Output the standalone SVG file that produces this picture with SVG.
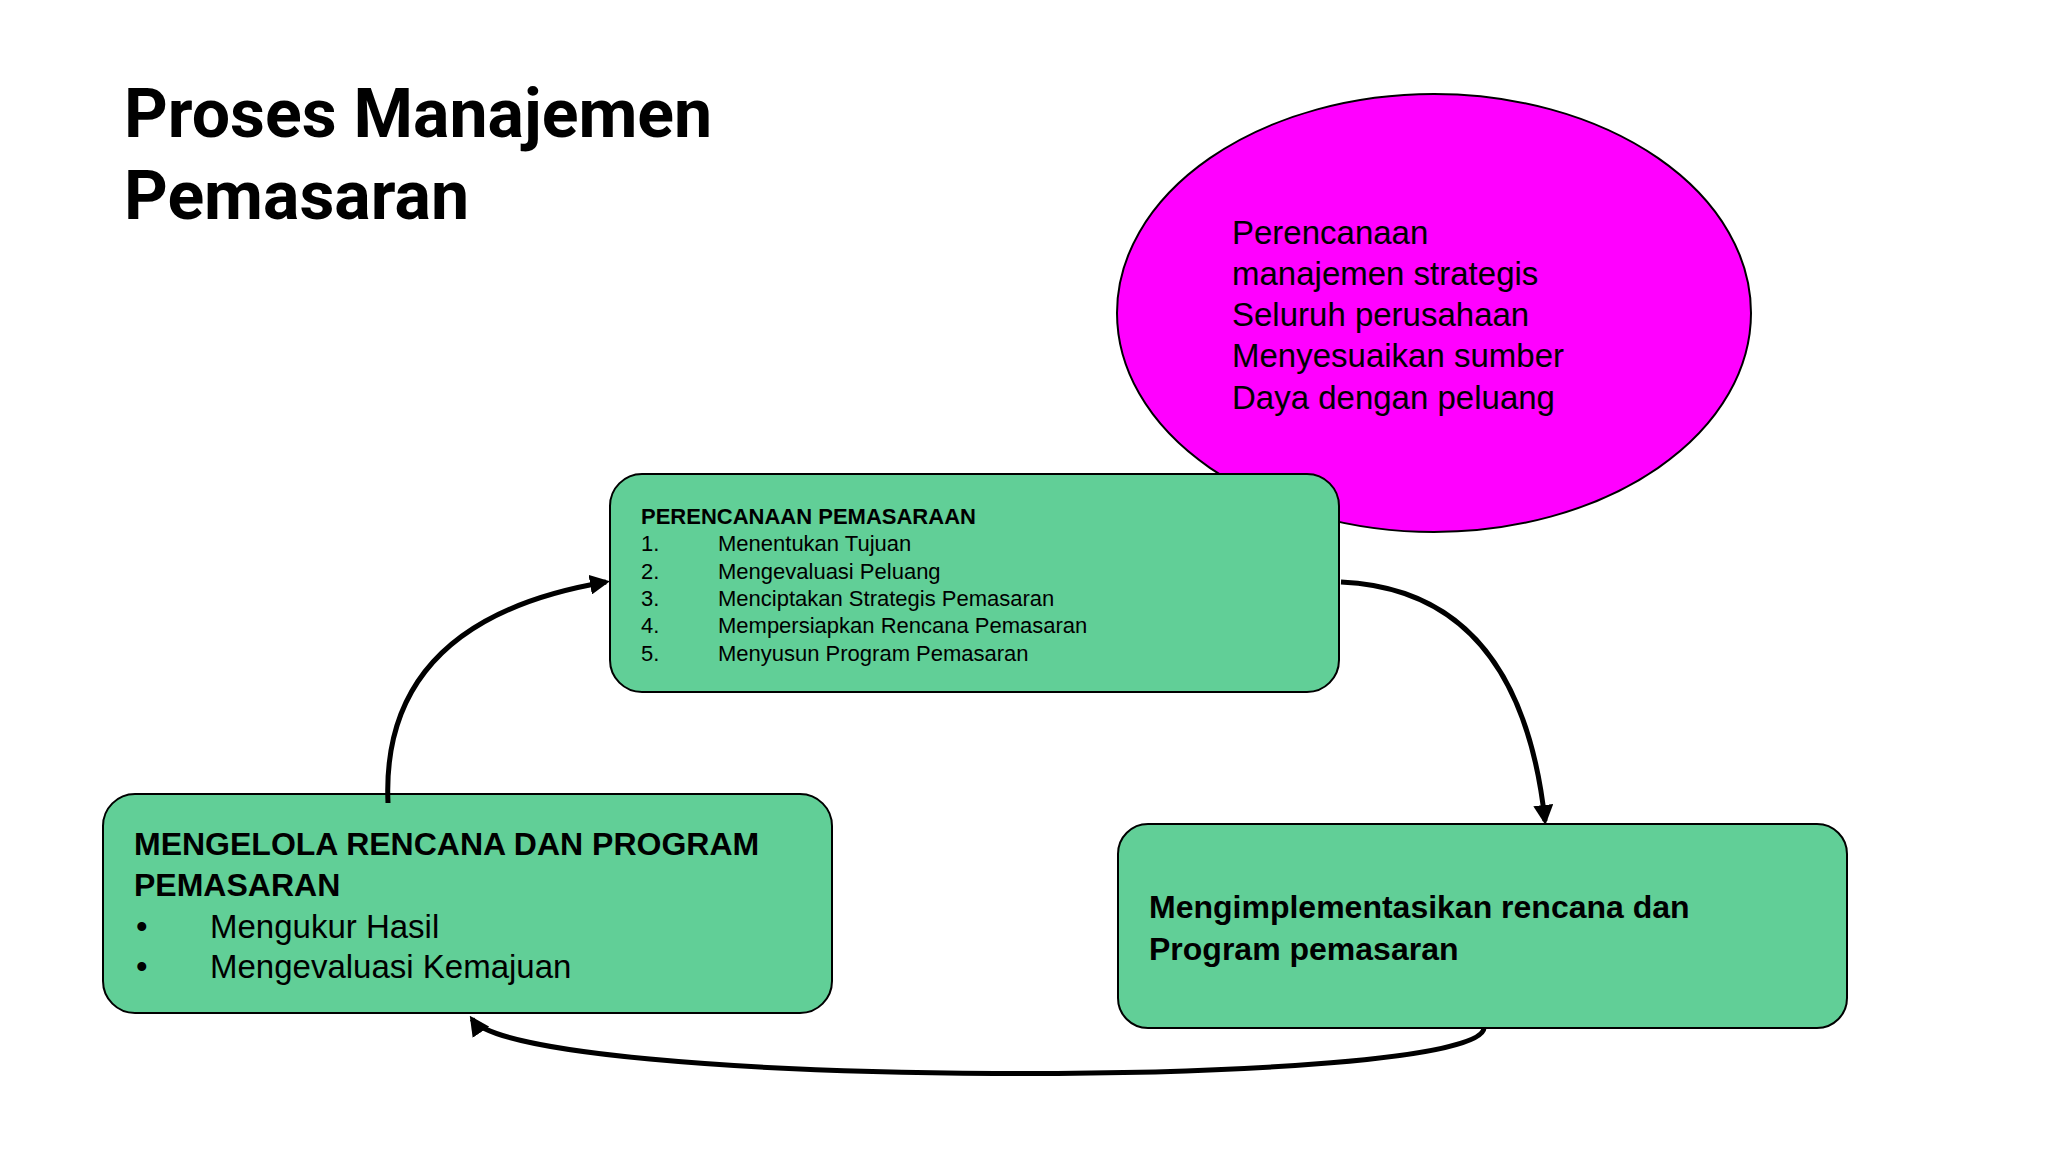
<svg xmlns="http://www.w3.org/2000/svg" width="2048" height="1152" viewBox="0 0 2048 1152">
<defs>
<style>
.box{fill:#61CF97;stroke:#000;stroke-width:2}
.t{font-family:"Liberation Sans",Arial,sans-serif;fill:#000}
.c{fill:none;stroke:#000;stroke-width:5}
</style>
<marker id="ah" viewBox="0 0 10 10" refX="8" refY="5" markerWidth="4" markerHeight="4" orient="auto" markerUnits="strokeWidth"><path d="M0,0L10,5L0,10z" fill="#000"/></marker>
</defs>
<rect width="2048" height="1152" fill="#fff"/>
<g id="title"><text class="t" x="124" y="137" font-family="Roboto,sans-serif" style="font-family:Roboto,sans-serif" font-size="68" font-weight="bold">Proses Manajemen</text>
<text class="t" x="124" y="219" style="font-family:Roboto,sans-serif" font-size="68" font-weight="bold">Pemasaran</text></g>
<g id="ellipse"><ellipse cx="1434" cy="313" rx="317" ry="219" fill="#FF00FF" stroke="#000" stroke-width="2"/>
<text class="t" font-size="33"><tspan x="1232" y="244">Perencanaan</tspan><tspan x="1232" y="285">manajemen strategis</tspan><tspan x="1232" y="326">Seluruh perusahaan</tspan><tspan x="1232" y="367">Menyesuaikan sumber</tspan><tspan x="1232" y="409">Daya dengan peluang</tspan></text></g>
<g id="plan"><rect class="box" x="610" y="474" width="729" height="218" rx="32"/>
<text class="t" x="641" y="524" font-size="22" font-weight="bold">PERENCANAAN PEMASARAAN</text>
<text class="t" font-size="22"><tspan x="641" y="551">1.</tspan><tspan x="718" y="551">Menentukan Tujuan</tspan><tspan x="641" y="579">2.</tspan><tspan x="718" y="579">Mengevaluasi Peluang</tspan><tspan x="641" y="606">3.</tspan><tspan x="718" y="606">Menciptakan Strategis Pemasaran</tspan><tspan x="641" y="633">4.</tspan><tspan x="718" y="633">Mempersiapkan Rencana Pemasaran</tspan><tspan x="641" y="661">5.</tspan><tspan x="718" y="661">Menyusun  Program Pemasaran</tspan></text></g>
<g id="manage"><rect class="box" x="103" y="794" width="729" height="219" rx="32"/>
<text class="t" font-size="32" font-weight="bold"><tspan x="134" y="855">MENGELOLA RENCANA DAN PROGRAM</tspan><tspan x="134" y="896">PEMASARAN</tspan></text>
<text class="t" font-size="33"><tspan x="136" y="938">•</tspan><tspan x="210" y="938">Mengukur Hasil</tspan><tspan x="136" y="978">•</tspan><tspan x="210" y="978">Mengevaluasi Kemajuan</tspan></text></g>
<g id="implement"><rect class="box" x="1118" y="824" width="729" height="204" rx="30"/>
<text class="t" font-size="32" font-weight="bold"><tspan x="1149" y="918">Mengimplementasikan rencana dan</tspan><tspan x="1149" y="960">Program pemasaran</tspan></text></g>
<g id="connectors">
<path class="c" d="M388,803 Q380,620 606,582" marker-end="url(#ah)"/>
<path class="c" d="M1341,582 Q1520,590 1545,821" marker-end="url(#ah)"/>
<path class="c" d="M1484,1028 C1480,1090 520,1090 472,1019" marker-end="url(#ah)"/>
</g>
</svg>
